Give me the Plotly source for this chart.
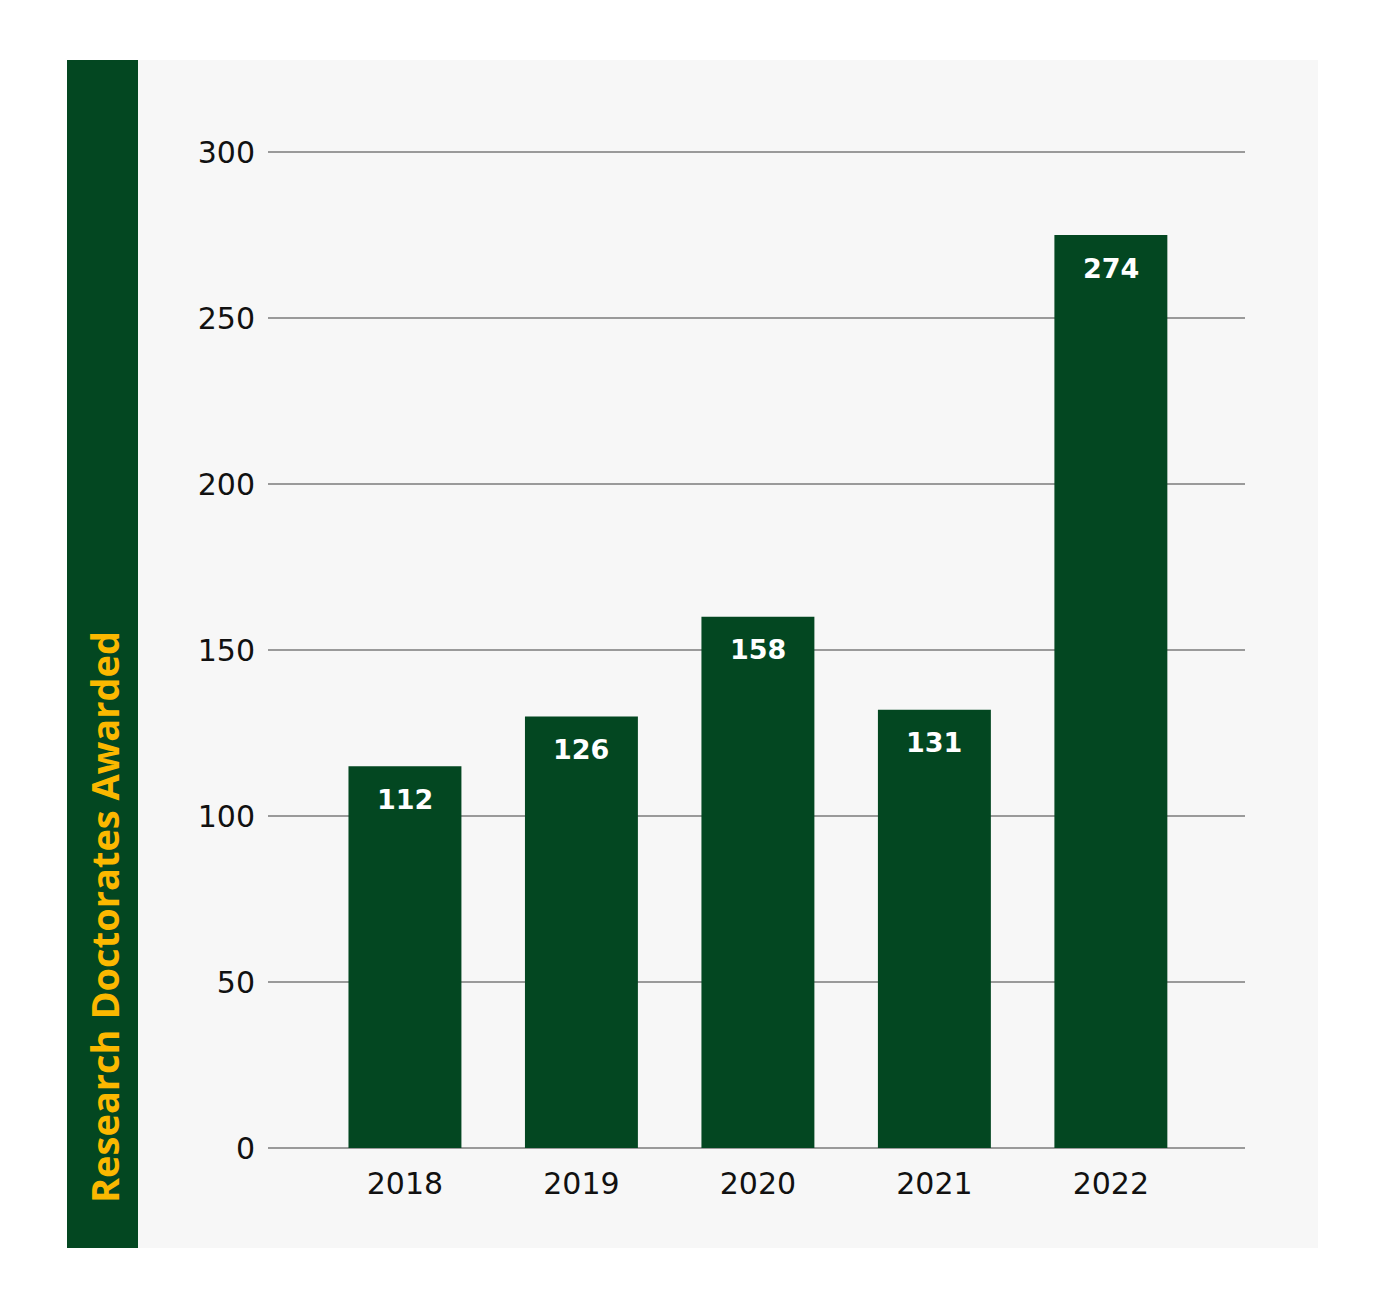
import plotly.graph_objects as go

years = ["2018", "2019", "2020", "2021", "2022"]
bar_heights = [115, 130, 160, 132, 275]
bar_labels = ["112", "126", "158", "131", "274"]
y_ticks = [0, 50, 100, 150, 200, 250, 300]
title_text = "Research Doctorates Awarded"

GREEN = "#034721"
YELLOW = "#FBB800"
PANEL = "#F7F7F7"

W, H = 1394, 1312
L, R, T, B = 268, 1245, 148, 1148
Y_TOP = 300 + (152 - T) / ((B - 152) / 300)

def px_x(p):
    return (p - L) / (R - L)

def px_y(p):
    return (B - p) / (B - T)

fig = go.Figure()
fig.add_trace(go.Bar(
    x=list(range(len(years))), y=bar_heights,
    marker=dict(color=GREEN, line=dict(width=0)),
    width=0.64, hoverinfo="skip",
))

for i, (h, lab) in enumerate(zip(bar_heights, bar_labels)):
    fig.add_annotation(x=i, y=h, text=lab, showarrow=False, yshift=-33,
                       font=dict(family="DejaVu Sans", size=27, color="white", weight="bold"),
                       xanchor="center", yanchor="middle")

fig.add_shape(type="rect", xref="paper", yref="paper",
              x0=px_x(67), x1=px_x(1318), y0=px_y(1248), y1=px_y(60),
              fillcolor=PANEL, line=dict(width=0), layer="below")
fig.add_shape(type="rect", xref="paper", yref="paper",
              x0=px_x(67), x1=px_x(138), y0=px_y(1248), y1=px_y(60),
              fillcolor=GREEN, line=dict(width=0), layer="below")

fig.add_annotation(xref="paper", yref="paper", x=px_x(104), y=px_y(917),
                   text=title_text, textangle=-90, showarrow=False,
                   font=dict(family="Open Sans", size=38, color=YELLOW, weight=700),
                   xanchor="center", yanchor="middle")

fig.update_layout(
    width=W, height=H,
    margin=dict(l=L, r=W - R, t=T, b=H - B, pad=0),
    paper_bgcolor="white", plot_bgcolor="rgba(0,0,0,0)",
    showlegend=False,
    xaxis=dict(range=[-0.776, 4.76], tickmode="array", tickvals=list(range(len(years))),
               ticktext=years, showgrid=False, zeroline=False, showline=False,
               ticks="outside", ticklen=9, tickcolor="rgba(0,0,0,0)",
               tickfont=dict(family="DejaVu Sans", size=30, color="#111")),
    yaxis=dict(range=[0, Y_TOP], tickmode="array", tickvals=y_ticks,
               showgrid=True, gridcolor="#9a9a9a", gridwidth=1.5,
               zeroline=True, zerolinecolor="#9a9a9a", zerolinewidth=1.5,
               showline=False, ticks="outside", ticklen=6, tickcolor="rgba(0,0,0,0)",
               tickfont=dict(family="DejaVu Sans", size=30, color="#111")),
)

fig.write_html("out.html")
